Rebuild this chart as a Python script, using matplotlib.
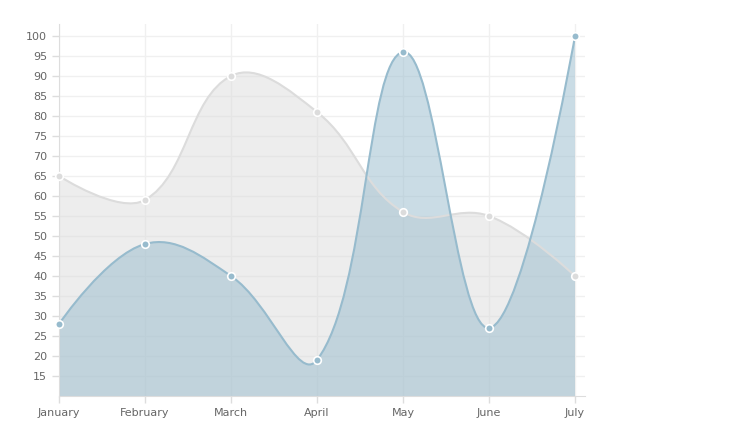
import numpy as np
import matplotlib

matplotlib.use("Agg")
import matplotlib.pyplot as plt
from matplotlib.path import Path
from matplotlib.patches import PathPatch

months = ["January", "February", "March", "April", "May", "June", "July"]
grey_values = [65, 59, 90, 81, 56, 55, 40]
blue_values = [28, 48, 40, 19, 96, 27, 100]

X_PX = 86.0   # pixels per month
Y_PX = 4.0    # pixels per unit
TENSION = 0.4


def spline_path(xs, ys, base):
    # Chart.js 1.x style bezier, control points computed in pixel space
    px = np.array(xs) * X_PX
    py = np.array(ys) * Y_PX
    n = len(px)
    ctrl = []
    for i in range(n):
        if i == 0 or i == n - 1:
            ctrl.append(((px[i], py[i]), (px[i], py[i])))
            continue
        d01 = np.hypot(px[i] - px[i - 1], py[i] - py[i - 1])
        d12 = np.hypot(px[i + 1] - px[i], py[i + 1] - py[i])
        fa = TENSION * d01 / (d01 + d12)
        fb = TENSION * d12 / (d01 + d12)
        dx, dy = px[i + 1] - px[i - 1], py[i + 1] - py[i - 1]
        ctrl.append(((px[i] - fa * dx, py[i] - fa * dy),
                     (px[i] + fb * dx, py[i] + fb * dy)))
    verts = [(px[0], py[0])]
    codes = [Path.MOVETO]
    for i in range(1, n):
        verts += [ctrl[i - 1][1], ctrl[i][0], (px[i], py[i])]
        codes += [Path.CURVE4] * 3
    verts = [(vx / X_PX, vy / Y_PX) for vx, vy in verts]
    line = Path(verts, codes)
    fill = Path(verts + [(xs[-1], base), (xs[0], base), (xs[0], ys[0])],
                codes + [Path.LINETO, Path.LINETO, Path.CLOSEPOLY])
    return line, fill


fig = plt.figure(figsize=(7.56, 4.28), dpi=100)
ax = fig.add_axes([59 / 756, 1 - 396 / 428, (585 - 59) / 756, (396 - 24) / 428])
ax.set_xlim(0, (585 - 59) / X_PX)
ax.set_ylim(10, 103)

xs = list(range(len(months)))
series = [
    (grey_values, (220 / 255, 220 / 255, 220 / 255)),
    (blue_values, (151 / 255, 187 / 255, 205 / 255)),
]
for values, color in series:
    line, fill = spline_path(xs, values, 10)
    ax.add_patch(PathPatch(fill, facecolor=color + (0.5,), edgecolor="none", zorder=2))
    ax.add_patch(PathPatch(line, facecolor="none", edgecolor=color, lw=1.5, zorder=3))
    ax.scatter(xs, values, s=30, color=color, edgecolors="white", linewidths=1.2,
               zorder=4, clip_on=False)

ax.set_xticks(xs)
ax.set_xticklabels(months)
ax.set_yticks(range(15, 101, 5))
ax.tick_params(axis="both", labelsize=8, colors="#666666", length=5, width=1)
ax.tick_params(axis="both", color="#dddddd")
ax.grid(True, color="#f0f0f0", lw=1, zorder=0)
ax.set_axisbelow(True)
for side in ["top", "right"]:
    ax.spines[side].set_visible(False)
for side in ["left", "bottom"]:
    ax.spines[side].set_color("#dddddd")

fig.savefig("out.png", dpi=100)
